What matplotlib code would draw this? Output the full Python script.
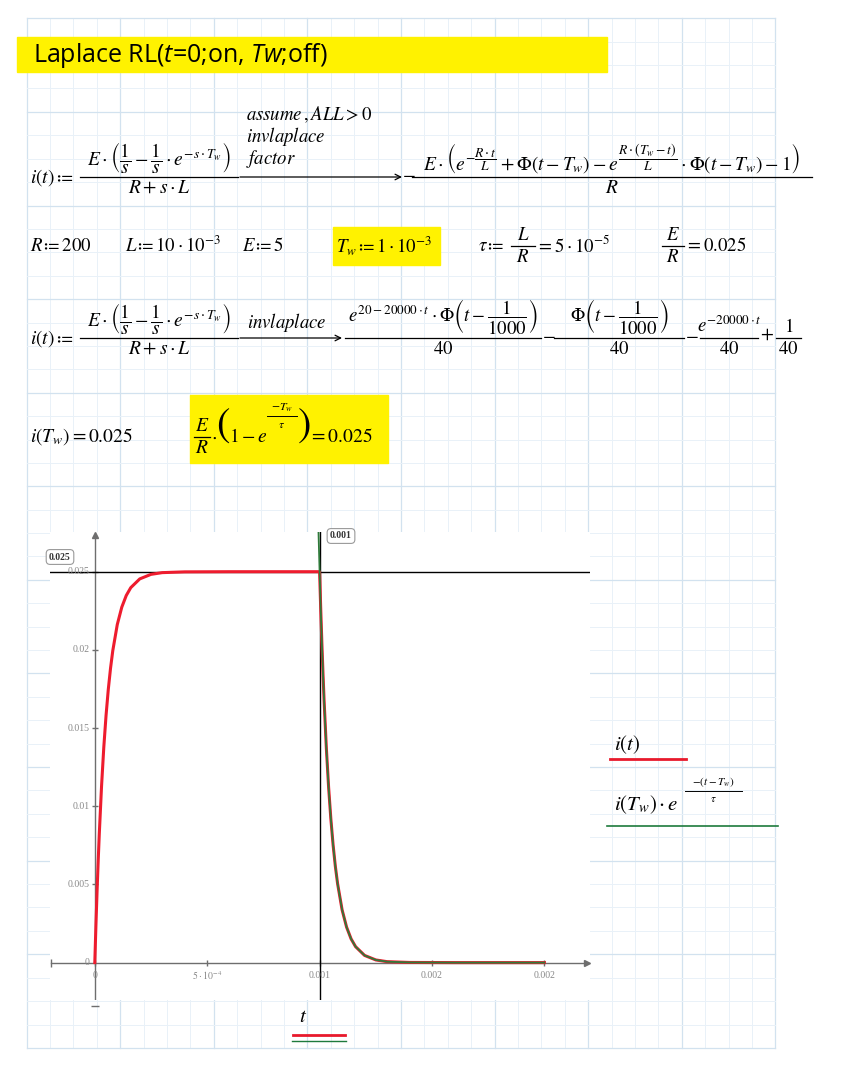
import matplotlib
matplotlib.use("Agg")
import matplotlib.pyplot as plt
from matplotlib.patches import Rectangle
import numpy as np

plt.rcParams['mathtext.fontset'] = 'stix'
plt.rcParams['font.family'] = ['STIXGeneral', 'DejaVu Serif']
plt.rcParams['mathtext.rm'] = 'Open Sans'
plt.rcParams['mathtext.it'] = 'Open Sans:italic'

# values (t in microseconds, i in ampere)
t_us = [0, 5, 10, 15, 20, 30, 40, 50, 60, 70, 80, 100, 120, 140, 160, 200, 250,
        300, 400, 600, 800, 1000, 1005, 1010, 1015, 1020, 1030, 1040, 1050, 1060,
        1070, 1080, 1100, 1120, 1140, 1160, 1200, 1250, 1300, 1400, 1600, 1800, 2000]
i_t = [0, 0.00238, 0.00453, 0.00648, 0.00824, 0.01128, 0.01377, 0.01580, 0.01747,
       0.01883, 0.01995, 0.02162, 0.02273, 0.02348, 0.02398, 0.02454, 0.02483,
       0.02494, 0.02499, 0.025, 0.025, 0.025, 0.02262, 0.02047, 0.01852, 0.01676,
       0.01372, 0.01123, 0.00920, 0.00753, 0.00616, 0.00505, 0.00338, 0.00227,
       0.00152, 0.00102, 0.00046, 0.00017, 0.00006, 0.00001, 0, 0, 0]
t_off_us = [995, 1000, 1005, 1010, 1015, 1020, 1030, 1040, 1050, 1060, 1070, 1080,
            1100, 1120, 1140, 1160, 1200, 1250, 1300, 1400, 1600, 1800, 2000]
i_off = [0.0276, 0.025, 0.02262, 0.02047, 0.01852, 0.01676, 0.01372, 0.01123,
         0.00920, 0.00753, 0.00616, 0.00505, 0.00338, 0.00227, 0.00152, 0.00102,
         0.00046, 0.00017, 0.00006, 0.00001, 0, 0, 0]

y_ticks = [0.005, 0.01, 0.015, 0.02, 0.025]
y_labels = ['0.005', '0.01', '0.015', '0.02', '0.025']
x_ticks = [0, 0.0005, 0.001, 0.0015, 0.002]
x_labels = ['0', r'$5\cdot10^{-4}$', '0.001', '0.002', '0.002']

W, H = 841, 1068
fig = plt.figure(figsize=(W / 100, H / 100), dpi=100)
bg = fig.add_axes([0, 0, 1, 1])
bg.set_xlim(0, W)
bg.set_ylim(H, 0)
bg.axis('off')

# worksheet grid
step = 23.4
x0g, x1g, y0g, y1g = 26.7, 775.5, 18.3, 1048.0
for k in range(33):
    x = x0g + k * step
    c, lw = ('#d2e2ef', 0.9) if k % 4 == 0 else ('#e9f1f8', 0.7)
    bg.plot([x, x], [y0g, y1g], color=c, lw=lw, zorder=0)
for k in range(45):
    y = y0g + k * step
    c, lw = ('#d2e2ef', 0.9) if k % 4 == 0 else ('#e9f1f8', 0.7)
    bg.plot([x0g, x1g], [y, y], color=c, lw=lw, zorder=0)

yellow = '#fff200'
FS = 13.5
CE = r'\,{≔}\,'

# title
bg.add_patch(Rectangle((17, 37), 590, 35, color=yellow, zorder=1))
bg.text(33, 56, r'Laplace RL($t$=0;on, $Tw$;off)', fontsize=18, family='Open Sans',
        math_fontfamily='custom', va='center', ha='left', zorder=2)


def txt(x, y, s, fs=FS, **kw):
    kw.setdefault('va', 'center')
    kw.setdefault('ha', 'left')
    bg.text(x, y, s, fontsize=fs, zorder=3, **kw)


def frac(xa, xb, yb, num, den, fs=FS, lw=0.9):
    xc = (xa + xb) / 2
    bg.plot([xa, xb], [yb, yb], color='k', lw=lw, zorder=3)
    bg.text(xc, yb - 2, num, ha='center', va='bottom', fontsize=fs, zorder=3)
    bg.text(xc, yb + 3, den, ha='center', va='top', fontsize=fs, zorder=3)


def minus(x, y, s=r'$-$'):
    bg.text(x, y - 3, s, fontsize=FS, zorder=3, ha='left', va='center')


def arrow(xa, xb, y):
    bg.annotate('', xy=(xb, y), xytext=(xa, y),
                arrowprops=dict(arrowstyle='->', lw=0.9, color='k', shrinkA=0, shrinkB=0))


lhs_num = r'$E\cdot\left(\dfrac{1}{s}-\dfrac{1}{s}\cdot e^{-s\cdot T_w}\right)$'
lhs_den = r'$R+s\cdot L$'

# equation 1
txt(30, 178, r'$i\left(t\right)' + CE + '$', fs=14)
frac(80, 238, 177, lhs_num, lhs_den, fs=14)
txt(246, 115, r'$assume\,,ALL>0$')
txt(246, 137, r'$invlaplace$')
txt(246, 159, r'$factor$')
arrow(240, 402, 177)
minus(402, 177)
frac(412, 812, 177,
     r'$E\cdot\left(e^{-\dfrac{R\cdot t}{L}}+\Phi\left(t-T_w\right)-e^{\dfrac{R\cdot\left(T_w-t\right)}{L}}'
     r'\cdot\Phi\left(t-T_w\right)-1\right)$', r'$R$', fs=14)

# parameters
txt(30, 246, r'$R' + CE + '200$')
txt(125, 246, r'$L' + CE + r'10\cdot10^{-3}$')
txt(242, 246, r'$E' + CE + '5$')
bg.add_patch(Rectangle((333, 227), 107, 38, color=yellow, zorder=1))
txt(336, 246, r'$T_w' + CE + r'1\cdot10^{-3}$')
txt(478, 246, r'$\tau' + CE + '$')
frac(511, 535, 246, r'$L$', r'$R$')
txt(536, 246, r'$=5\cdot10^{-5}$')
frac(662, 684, 246, r'$E$', r'$R$')
txt(685, 246, r'$=0.025$')

# equation 2
txt(30, 339, r'$i\left(t\right)' + CE + '$', fs=14)
frac(80, 238, 338, lhs_num, lhs_den, fs=14)
txt(247, 322, r'$invlaplace$')
arrow(240, 342, 338)
frac(345, 541, 338, r'$e^{20-20000\cdot t}\cdot\Phi\left(t-\dfrac{1}{1000}\right)$', r'$40$')
minus(542, 338)
frac(554, 684, 338, r'$\Phi\left(t-\dfrac{1}{1000}\right)$', r'$40$')
minus(685, 338)
frac(700, 758, 338, r'$e^{-20000\cdot t}$', r'$40$')
minus(760, 338, r'$+$')
frac(776, 801, 338, r'$1$', r'$40$')

# check values
txt(30, 437, r'$i\left(T_w\right)=0.025$', fs=14)
bg.add_patch(Rectangle((190, 395), 198, 68, color=yellow, zorder=1))
frac(194, 210, 437, r'$E$', r'$R$', fs=14)
txt(211, 437, r'$\cdot$', fs=14)
txt(216, 427, '(', fs=29, family='STIXGeneral')
txt(229, 437, r'$1-e$', fs=14)
frac(267, 297, 416, r'$-T_w$', r'$\tau$', fs=8.5, lw=0.7)
txt(298, 427, ')', fs=29, family='STIXGeneral')
txt(309, 437, r'$=0.025$', fs=14)

# legend text at right
txt(614, 745, r'$i\left(t\right)$', fs=15)
bg.plot([610, 686], [759, 759], color='#e8192c', lw=2, zorder=3)
txt(614, 805, r'$i\left(T_w\right)\cdot e$', fs=15)
frac(685, 742, 791, r'$-\left(t-T_w\right)$', r'$\tau$', fs=8, lw=0.7)
bg.plot([607, 778], [826, 826], color='#1e7a3c', lw=1.2, zorder=3)

# x label below
txt(303, 1017, r'$t$', fs=15, ha='center')
bg.plot([293, 345], [1035, 1035], color='#e8192c', lw=2, zorder=3)
bg.plot([292, 346], [1041, 1041], color='#1e7a3c', lw=1, zorder=3)

# plot
px_l, px_r, px_t, px_b = 50, 590, 532, 1000
ax = fig.add_axes([px_l / W, 1 - px_b / H, (px_r - px_l) / W, (px_b - px_t) / H])
ax.set_facecolor('white')
for s in ax.spines.values():
    s.set_visible(False)
ax.set_xticks([])
ax.set_yticks([])
sx = 224.8 / 0.001
sy = 390.9 / 0.025
x0px, y0px = 94.8, 962.6
ax.set_xlim((px_l - x0px) / sx, (px_r - x0px) / sx)
ax.set_ylim((y0px - px_b) / sy, (y0px - px_t) / sy)

gray = '#6e6e6e'
ya_bot, ya_top = (y0px - 1006) / sy, (y0px - 535) / sy
ax.plot([0, 0], [ya_bot, ya_top], color=gray, lw=1)
ax.plot([0], [ya_top], marker='^', color=gray, ms=5, clip_on=False)
ax.plot([0], [ya_bot], marker='_', color=gray, ms=6, clip_on=False)
xa_l, xa_r = (50.5 - x0px) / sx, (587 - x0px) / sx
ax.plot([xa_l, xa_r], [0, 0], color=gray, lw=1)
ax.plot([xa_r], [0], marker='>', color=gray, ms=5, clip_on=False)
ax.plot([xa_l], [0], marker='|', color=gray, ms=6, clip_on=False)
ax.plot([0] * len(y_ticks), y_ticks, ls='none', marker='_', color=gray, ms=5)
ax.plot(x_ticks, [0] * len(x_ticks), ls='none', marker='|', color=gray, ms=5)
for v, lab in zip(y_ticks, y_labels):
    ax.annotate(lab, xy=(0, v), xytext=(-3.5, 0), textcoords='offset points',
                ha='right', va='center', fontsize=7, color='#888888', family='Liberation Serif')
ax.annotate('0', xy=(0, 0), xytext=(-3.5, 0), textcoords='offset points',
            ha='right', va='center', fontsize=7, color='#888888', family='Liberation Serif')
for v, lab in zip(x_ticks, x_labels):
    ax.annotate(lab, xy=(v, 0), xytext=(0, -9), textcoords='offset points',
                ha='center', va='center', fontsize=7, color='#888888', family='Liberation Serif')

ax.axhline(0.025, color='k', lw=1)
ax.axvline(0.001, color='k', lw=1)
ax.plot(np.array(t_us) * 1e-6, i_t, color='#ee1c2e', lw=2.2, zorder=4)
ax.plot(np.array(t_off_us) * 1e-6, i_off, color='#2f7a3a', lw=1.3, zorder=5)

box = dict(boxstyle='round,pad=0.3,rounding_size=0.4', fc='white', ec='#9a9a9a', lw=0.8)
fig.text(60, 557, '0.025', transform=bg.transData, fontsize=7, ha='center', va='center',
         family='Liberation Serif', weight='bold', color='#333333', bbox=box, zorder=10)
fig.text(341, 536, '0.001', transform=bg.transData, fontsize=7, ha='center', va='center',
         family='Liberation Serif', weight='bold', color='#333333', bbox=box, zorder=10)

fig.savefig('out.png', dpi=100)
